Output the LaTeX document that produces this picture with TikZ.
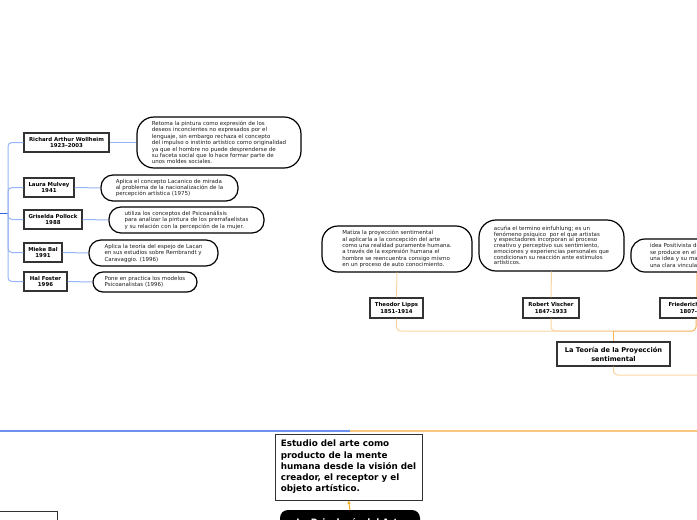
\documentclass[tikz,border=0pt]{standalone}
\usepackage{fontspec}
\usetikzlibrary{arrows.meta}
\setmainfont{DejaVu Sans}
\definecolor{bluelight}{RGB}{150,180,245}
\definecolor{bluedark}{RGB}{40,100,230}
\definecolor{blueline}{RGB}{110,145,240}
\definecolor{orlight}{RGB}{250,212,160}
\definecolor{ordark}{RGB}{245,178,90}
\definecolor{orline}{RGB}{247,198,127}
\definecolor{arrowc}{RGB}{240,175,30}
\definecolor{txtgray}{RGB}{30,30,30}
\tikzset{
  x=1pt,y=-1pt,
  namebox/.style={draw=black!80,line width=1.3pt,fill=white,inner sep=0pt,
     align=center,font=\fontsize{5.4}{6.6}\selectfont\bfseries},
  bubble/.style={draw=black,line width=1.2pt,fill=white,rounded corners=12pt,inner sep=0pt,
     align=left,text=txtgray,font=\fontsize{5.5}{6.4}\selectfont},
  bl/.style={draw=bluelight,line width=1pt},
  ol/.style={draw=orlight,line width=1pt},
}
\begin{document}
\begin{tikzpicture}
\useasboundingbox (0,0) rectangle (697,520);
\clip (0,0) rectangle (697,520);

% ---------- left branch ----------
\node[namebox,minimum width=85pt,minimum height=19pt] (rw) at (66.5,142.5) {Richard Arthur Wollheim\\1923--2003};
\node[bubble,minimum width=164pt,minimum height=51pt,rounded corners=17pt] (rwb) at (219,142.5) {Retoma la pintura como expresión de los\\deseos inconcientes no expresados por el\\lenguaje, sin embargo rechaza el concepto\\del impulso o instinto artístico como originalidad\\ya que el hombre no puede desprenderse de\\su faceta social que lo hace formar parte de\\unos moldes sociales.};

\node[namebox,minimum width=50pt,minimum height=19pt] (lm) at (49,187.5) {Laura Mulvey\\1941};
\node[bubble,minimum width=137pt,minimum height=26pt] (lmb) at (169.5,188) {Aplica el concepto Lacanico de mirada\\al problema de la nacionalización de la\\percepción artística (1975)};

\node[namebox,minimum width=58pt,minimum height=19pt] (gp) at (53,219.5) {Griselda Pollock\\1988};
\node[bubble,minimum width=155pt,minimum height=26pt] (gpb) at (186.5,220) {utiliza los conceptos del Psicoanálisis\\para analizar la pintura de los prerrafaelistas\\y su relación con la percepción de la mujer.};

\node[namebox,minimum width=38pt,minimum height=19pt] (mb) at (43,252.5) {Mieke Bal\\1991};
\node[bubble,minimum width=129pt,minimum height=26pt] (mbb) at (153.5,253) {Aplica la teoría del espejo de Lacan\\en sus estudios sobre Rembrandt y\\Caravaggio. (1996)};

\node[namebox,minimum width=43pt,minimum height=19pt] (hf) at (45.5,281.5) {Hal Foster\\1996};
\node[bubble,minimum width=104pt,minimum height=20pt,rounded corners=10pt] (hfb) at (145,282) {Pone en practica los modelos\\Psicoanalistas (1996)};

\coordinate (lroot) at (0,213);
\coordinate (lj) at (8,213);
\draw[draw=bluedark,line width=1pt] (lroot) -- (lj);
\foreach \n in {rw,lm,gp,mb,hf}{
  \draw[bl,rounded corners=4pt] (lj) |- (\n.west);
}
\draw[bl] (rw.east) -- (rwb.west);
\draw[bl] (lm.east) -- (lmb.west);
\draw[bl] (gp.east) -- (gpb.west);
\draw[bl] (mb.east) -- (mbb.west);
\draw[bl] (hf.east) -- (hfb.west);

% ---------- right branch ----------
\node[bubble,minimum width=150pt,minimum height=46pt,rounded corners=16pt] (tlb) at (397,249) {Matiza la proyección sentimental\\al aplicarla a la concepción del arte\\como una realidad puramente humana.\\a través de la expresión humana el\\hombre se reencuentra consigo mismo\\en un proceso de auto conocimiento.};
\node[namebox,minimum width=53pt,minimum height=20pt] (tl) at (396.5,308) {Theodor Lipps\\1851-1914};

\node[bubble,minimum width=145pt,minimum height=51pt,rounded corners=17pt,font=\fontsize{5.5}{5.7}\selectfont] (rvb) at (551.5,245.5) {acuña el termino einfuhlung; es un\\fenómeno psíquico\ \ por el que artistas\\y espectadores incorporan al proceso\\creativo y perceptivo sus sentimiento,\\emociones y experiencias personales que\\condicionan su reacción ante estímulos\\artísticos.};
\node[namebox,minimum width=56pt,minimum height=20pt] (rv) at (551,308) {Robert Vischer\\1847-1933};

\node[bubble,minimum width=130pt,minimum height=33pt,rounded corners=14pt,text width=92pt] (fvb) at (696,255.5) {idea Positivista de que el arte\\se produce en el artista con\\una idea y su manifestación\\una clara vinculación};
\node[namebox,minimum width=72pt,minimum height=20pt] (fv) at (696,308) {Friederich Vischer\\1807-1887};

\node[namebox,minimum width=113pt,minimum height=24pt,font=\fontsize{6.6}{9}\selectfont\bfseries] (teo) at (613.5,354) {La Teoría de la Proyección\\sentimental};

\draw[ol] (tlb.south) -- (tl.north);
\draw[ol] (rvb.south) -- (rv.north);
\draw[ol] (fvb.south) -- (fv.north);

\coordinate (tj) at (613.5,331);
\coordinate (tr) at (697,375);
\draw[ol,rounded corners=4pt] (tj) -| (tl.south);
\draw[ol,rounded corners=4pt] (tj) -| (rv.south);
\draw[draw=ordark,line width=1pt,rounded corners=4pt] (tj) -| (fv.south);
\draw[draw=ordark,line width=1pt] (teo.north) -- (tj);
\draw[ol,rounded corners=4pt] (teo.south) |- (tr);

% ---------- bottom ----------
\coordinate (bll) at (0,431);
\coordinate (blm) at (350,431);
\coordinate (blr) at (697,431);
\draw[draw=blueline,line width=1.2pt] (bll) -- (blm);
\draw[draw=orline,line width=1.2pt] (blm) -- (blr);

\node[draw=black!80,line width=0.8pt,fill=white,minimum width=147pt,minimum height=66pt,inner sep=3pt,
      align=left,font=\fontsize{8.8}{11.2}\selectfont\bfseries] (est) at (348.5,467)
  {Estudio del arte como\\producto de la mente\\humana desde la visión del\\creador, el receptor y el\\objeto artístico.};

\node[fill=black,rounded corners=8pt,minimum width=140pt,minimum height=26pt,inner sep=0pt,
      text=white,font=\fontsize{8.8}{10}\selectfont\bfseries] (ps) at (350,523) {La Psicología del Arte};
\draw[draw=arrowc,line width=1pt,-{Latex[length=3.5pt,width=3.5pt]}] (ps.north) -- (est.south);

\node[draw=black!80,line width=0.9pt,fill=white,minimum width=67pt,minimum height=30pt,inner sep=0pt] (blbox) at (23.5,526) {};
\end{tikzpicture}
\end{document}
